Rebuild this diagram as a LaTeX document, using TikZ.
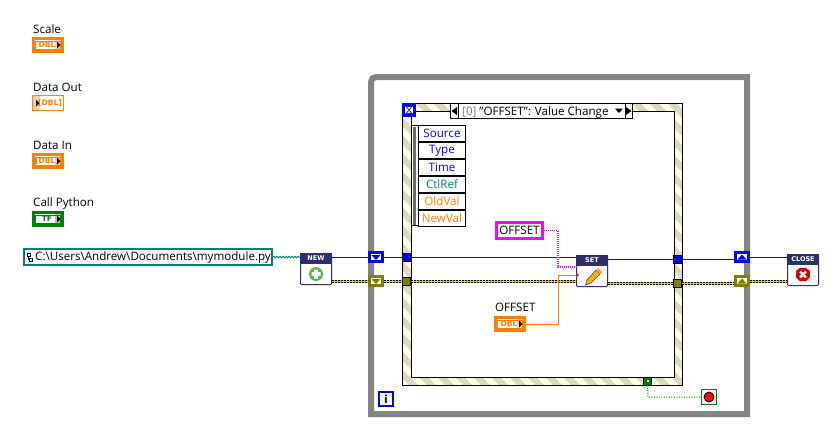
\documentclass[tikz,border=0pt]{standalone}
\usepackage{fontspec}
\setmainfont{Open Sans}
\newfontfamily\termfont{DejaVu Sans}
\usepackage{tikz}
\usetikzlibrary{arrows.meta,positioning,decorations.pathmorphing}
\definecolor{dblorange}{HTML}{FF7F00}
\definecolor{boolgreen}{HTML}{007F00}
\definecolor{pathteal}{HTML}{007F7F}
\definecolor{refblue}{HTML}{0000FF}
\definecolor{refnavy}{HTML}{2E2E6E}
\definecolor{errolive}{HTML}{7F7F00}
\definecolor{erryellow}{HTML}{D8D810}
\definecolor{loopgray}{HTML}{848484}
\definecolor{hatchcream}{HTML}{FFFDE4}
\definecolor{hatchbeige}{HTML}{DAD8C2}
\definecolor{propmagenta}{HTML}{FF00FF}
\begin{document}
\begin{tikzpicture}[x=1pt, y=-1pt,
  txt/.style={inner sep=0pt, font=\fontsize{11.6}{13}\selectfont},
  lbl/.style={txt, anchor=west},
  term/.style={draw=#1, line width=3pt, fill=white, minimum width=29pt, minimum height=13pt, inner sep=0pt, anchor=north west},
  thinterm/.style={draw=#1, line width=1pt, fill=white, minimum width=31pt, minimum height=15pt, inner sep=0pt, anchor=north west},
  termtxt/.style={inner sep=0pt, text=#1, font=\termfont\bfseries\fontsize{7.6}{8}\selectfont},
  vibox/.style={draw=refnavy, line width=1pt, fill=white, rounded corners=1pt, minimum width=31pt, minimum height=31pt, inner sep=0pt, anchor=north west},
  vihead/.style={fill=refnavy, text=white, inner sep=0pt, minimum width=32pt, minimum height=10.5pt, anchor=north, font=\termfont\bfseries\fontsize{6.5}{7}\selectfont},
  tunnel/.style={draw=#1, line width=3pt, fill=white, minimum width=13pt, minimum height=9pt, inner sep=0pt, anchor=center},
  tun/.style={draw=black, line width=.8pt, fill=#1, minimum width=8.2pt, minimum height=8.2pt, inner sep=0pt, anchor=center},
  cell/.style={draw=black, line width=.8pt, fill=white, minimum width=47.2pt, minimum height=16.2pt, inner sep=0pt, anchor=north west, text=#1, font=\fontsize{11.6}{13}\selectfont},
  bluewire/.style={draw=refblue, line width=1pt},
  errwire/.style={draw=erryellow, line width=3pt,
    postaction={draw=black, line width=3pt, dash pattern=on 2pt off 1pt}, postaction={draw=erryellow, line width=1pt}},
  pathwire/.style={draw=pathteal, line width=1pt, decorate, decoration={snake, amplitude=.7pt, segment length=3pt}},
  propwire/.style={draw=propmagenta, line width=1.5pt, dash pattern=on 1pt off 1pt},
  dblwire/.style={draw=dblorange, line width=1pt},
  boolwire/.style={draw=boolgreen, line width=1pt, dash pattern=on 1pt off 1.5pt}]
\useasboundingbox (0,0) rectangle (834,442);
\fill[white] (0,0) rectangle (834,442);

% while loop
\draw[loopgray, line width=6pt] (371,414) [rounded corners=5pt] -- (371,77) [sharp corners] -- (747,77) -- (747,414) -- cycle;
% event structure
\begin{scope}[even odd rule]
  \clip (402,103) rectangle (682,385) (411,111) rectangle (674,377);
  \fill[hatchcream] (402,103) rectangle (682,385);
  \foreach \i in {0,18,...,720}
    \fill[hatchbeige] (380+\i,392) -- (389+\i,392) -- (389+\i-296,96) -- (380+\i-296,96) -- cycle;
\end{scope}
\draw[black, line width=.9pt] (402,103) rectangle (682,385) (411,111) rectangle (674,377);
% selector
\node[draw=black, line width=.8pt, fill=white, minimum width=182pt, minimum height=15pt, inner sep=0pt, anchor=north west] (selector) at (450,103) {};
\draw[black, line width=.8pt] (458,103) -- (458,119) (625,103) -- (625,119);
\node[txt, anchor=west] (seltext) at (462,112) {{\color{gray}[0]} "OFFSET": Value Change};
\fill (451.5,111) -- (457,107) -- (457,115) -- cycle;
\fill (631.5,111) -- (626,107) -- (626,115) -- cycle;
\fill (615,108.5) -- (623,108.5) -- (619,113) -- cycle;
% timeout
\node[draw=refblue, line width=3pt, fill=white, minimum size=11pt, inner sep=0pt, anchor=north west] (timeout) at (402,103) {};
\draw[refnavy, line width=.8pt] (406,106.5) -- (412,106.5) -- (406,113.5) -- (412,113.5) -- cycle;
% event data
\node[draw=black, line width=.8pt, fill=white, minimum width=7pt, minimum height=100.2pt, inner sep=0pt, anchor=north west] (grip) at (411,125) {};
\fill[loopgray!80!black] (412.5,126.5) rectangle (416,224.5);
\node[cell=refblue] (source) at (418,125) {Source};
\node[cell=refblue, below=0pt of source] (type) {Type};
\node[cell=refblue, below=0pt of type] (time) {Time};
\node[cell=pathteal, below=0pt of time] (ctlref) {CtlRef};
\node[cell=dblorange, below=0pt of ctlref] (oldval) {OldVal};
\node[cell=dblorange, below=0pt of oldval] (newval) {NewVal};

% controls on the left
\node[lbl] (scalelbl) at (33,29.5) {Scale};
\node[term=dblorange] (scale) at (32,37) {};
\node[lbl] (datoutlbl) at (33,87.5) {Data Out};
\node[thinterm=dblorange] (datout) at (32,95) {};
\fill[dblorange!35] (33,96) rectangle (40,110);
\node[termtxt=dblorange] at (50,103) {[DBL]};
\fill (36,99.5) -- (39.5,103) -- (36,106.5) -- cycle;
\node[lbl] (datinlbl) at (33,145.5) {Data In};
\node[term=dblorange] (datin) at (32,153) {};
\node[lbl] (pylbl) at (33,203.5) {Call Python};
\node[term=boolgreen] (py) at (32,211) {};
\node[lbl] (offsetlbl) at (495,307.5) {OFFSET};
\node[term=dblorange] (offset) at (494,316) {};
\foreach \n/\c/\t in {scale/dblorange/DBL, datin/dblorange/{[DBL]}, py/boolgreen/TF, offset/dblorange/DBL} {
  \fill[\c!35] ([shift={(23,3)}]\n.north west) rectangle ([shift={(-3,-3)}]\n.south east);
  \draw[\c, line width=.6pt] ([shift={(3.5,4)}]\n.north west) rectangle ([shift={(-4,-3.5)}]\n.south east);
  \node[termtxt=\c] at ([shift={(15,8)}]\n.north west) {\t};
  \fill ([shift={(-7,-3.5)}]\n.east) -- ([shift={(-3.5,0)}]\n.east) -- ([shift={(-7,3.5)}]\n.east) -- cycle;
}
% path constant
\node[draw=pathteal, line width=2pt, fill=white, minimum width=248pt, minimum height=16pt, inner sep=0pt, anchor=north west] (pathconst) at (23,248) {};
\node[txt, anchor=west] (pathtxt) at (35,257.5) {C:\textbackslash Users\textbackslash Andrew\textbackslash Documents\textbackslash mymodule.py};
\draw[black, line width=.7pt] (27,253) rectangle (30,256) (29,258) rectangle (32,261) (28,256) -- (28,259.5) -- (29,259.5);

% VIs
\node[vibox] (new) at (300,253) {};
\node[vihead] at (new.north) {NEW};
\fill[green!55!black!65] (316,274) circle (7pt);
\fill[white] (314.2,269.5) rectangle (317.8,278.5) (311.5,272.2) rectangle (320.5,275.8);
\node[vibox] (set) at (576,255) {};
\node[vihead] at (set.north) {SET};
\draw[black!70, fill=orange!60!yellow, line width=.6pt] (587,280) -- (596,270) -- (600,274) -- (591,283) -- (585.5,285) -- cycle;
\fill[red!40!orange!60] (596,270) -- (598,268) -- (602,272) -- (600,274) -- cycle;
\node[vibox] (close) at (787,254) {};
\node[vihead] at (close.north) {CLOSE};
\fill[red!85!black] (796,271) -- (799.5,268) -- (806,268) -- (810,271) -- (810,277) -- (806,281) -- (799.5,281) -- (796,277) -- cycle;
\draw[white, line width=2.4pt] (800,271.5) -- (806,277.5) (806,271.5) -- (800,277.5);

% shift registers and tunnels
\node[tunnel=refblue] (srlblue) at (376,257) {};
\fill[refblue] (371.5,255) -- (380.5,255) -- (376,260) -- cycle;
\node[tunnel=errolive] (srlerr) at (376,281) {};
\fill[errolive] (371.5,279) -- (380.5,279) -- (376,284) -- cycle;
\node[tunnel=refblue] (srrblue) at (742,257) {};
\fill[refblue] (737.5,259.5) -- (746.5,259.5) -- (742,254.5) -- cycle;
\node[tunnel=errolive] (srrerr) at (742,281) {};
\fill[errolive] (737.5,283.5) -- (746.5,283.5) -- (742,278.5) -- cycle;
\node[tun=refblue] (tunlblue) at (406.5,257) {};
\node[tun=errolive] (tunlerr) at (406.5,281) {};
\node[tun=refblue] (tunrblue) at (677.5,259.5) {};
\node[tun=errolive] (tunrerr) at (677.5,283.5) {};

% property
\node[draw=propmagenta, line width=3pt, fill=white, minimum width=46pt, minimum height=16pt, inner sep=0pt, anchor=north west] (offsetprop) at (495,221) {};
\node[txt] at (offsetprop.center) {OFFSET};
% iteration and stop
\node[draw=refblue, line width=2pt, fill=hatchcream, minimum size=14pt, inner sep=0pt, anchor=north west, text=refblue, font=\termfont\bfseries\fontsize{11}{11}\selectfont] (iter) at (378,391) {i};
\node[draw=boolgreen, line width=1pt, fill=white, minimum size=15pt, inner sep=0pt, anchor=north west] (stop) at (701,389) {};
\draw[black, fill=red, line width=.8pt] (stop.center) circle (5pt);
\node[draw=black, line width=.8pt, fill=boolgreen, minimum width=8.2pt, minimum height=8pt, inner sep=0pt] (stoptun) at (647.5,381) {};
\fill[white] (646.5,380) rectangle (648.5,382);

% wires
\coordinate (pathin) at (300,257);
\coordinate (pathout) at (273,257);
\coordinate (proptop) at (558,230.5);
\coordinate (propin) at (576,267);
\coordinate (dbltop) at (558,275);
\coordinate (dblin) at (576,275);
\coordinate (bend) at (648,397);
\draw[pathwire] (pathout) -- (pathin);
\draw[bluewire] (new.east |- srlblue) -- (srlblue);
\draw[bluewire] (srlblue) -- (tunlblue);
\draw[bluewire] (tunlblue) -- (set.west |- tunlblue);
\draw[bluewire] (set.east |- tunrblue) -- (tunrblue);
\draw[bluewire] (tunrblue) -- (srrblue.west |- tunrblue);
\draw[bluewire] (srrblue) -- (close.west |- srrblue);
\draw[errwire] (new.east |- srlerr) -- (srlerr);
\draw[errwire] (srlerr) -- (tunlerr);
\draw[errwire] (tunlerr) -- (set.west |- tunlerr);
\draw[errwire] (set.east |- tunrerr) -- (tunrerr);
\draw[errwire] (tunrerr) -- (srrerr.west |- tunrerr);
\draw[errwire] (srrerr) -- (close.west |- srrerr);
\draw[propwire] (offsetprop.east) -- (proptop) -- (proptop |- propin) -- (propin);
\draw[dblwire] (offset.east) -- (offset.east -| dbltop) -- (dbltop) -- (dblin);
\fill[red] (576,272.5) -- (579,275) -- (576,277.5) -- cycle;
\draw[boolwire] (stoptun.south) -- (bend) -- (stop.west);
\end{tikzpicture}
\end{document}
